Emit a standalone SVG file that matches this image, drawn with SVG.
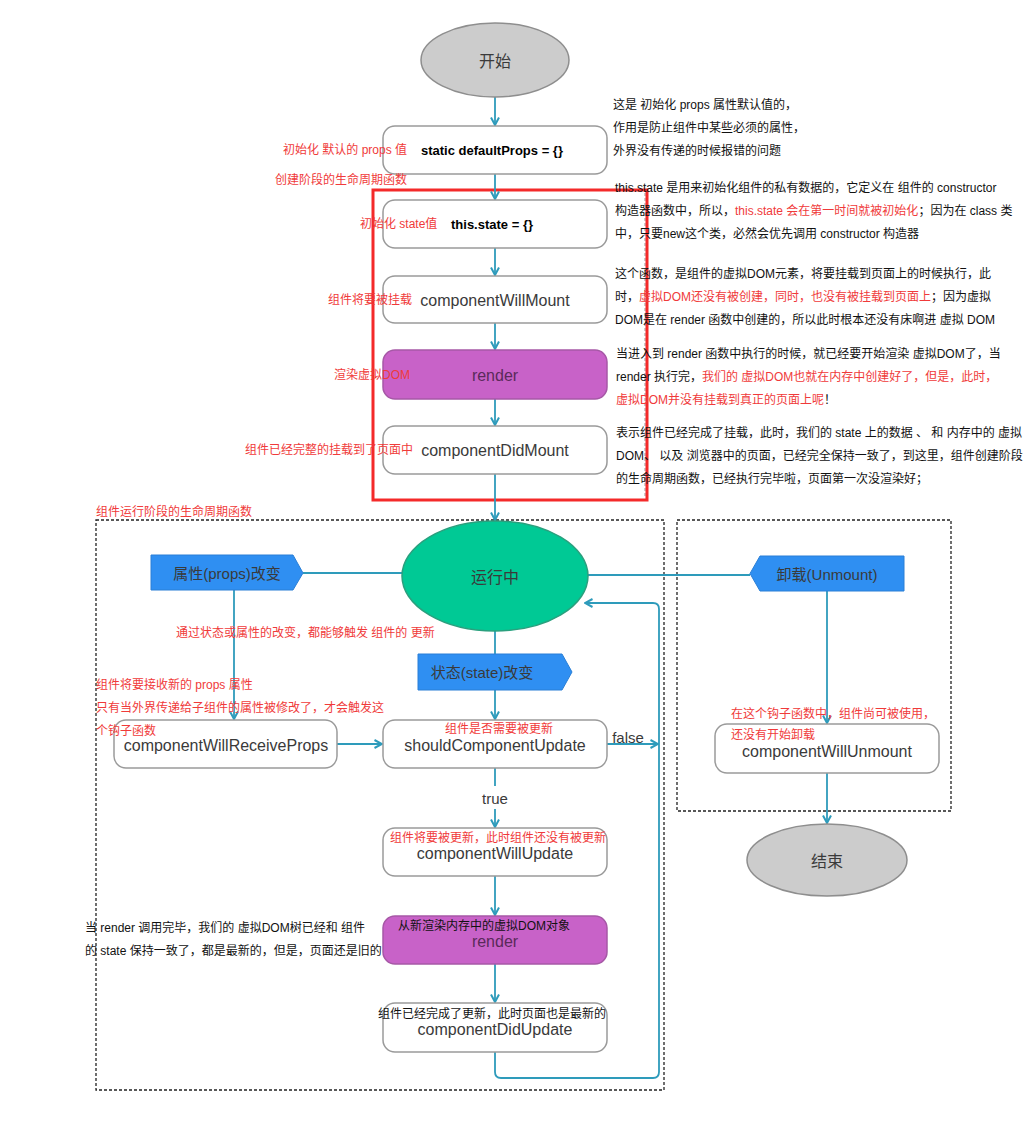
<svg xmlns="http://www.w3.org/2000/svg" width="1031" height="1140" viewBox="0 0 1031 1140">
<defs>
<style>
.box{fill:#fff;stroke:#9a9a9a;stroke-width:1.5}
.pur{fill:#c862c8;stroke:#a658a6;stroke-width:1.5}
.blue{fill:#2f8ff2;stroke:#2a7fd6;stroke-width:1}
.grey{fill:#cccccc;stroke:#8e8e8e;stroke-width:1.5}
.green{fill:#00c995;stroke:#2aa07e;stroke-width:1.5}
.con{fill:none;stroke:#2e9bbb;stroke-width:1.8}
.dash{fill:none;stroke:#222;stroke-width:1.3;stroke-dasharray:3 2}
.t{font-family:"Liberation Sans","Noto Sans CJK SC",sans-serif;}
.node{font-size:16px;fill:#3a3a3a;text-anchor:middle;dominant-baseline:central}
.code{font-size:13px;font-weight:bold;fill:#000;dominant-baseline:central}
.red{font-size:12px;fill:#f03a3a;dominant-baseline:central}
.blk{font-size:12px;fill:#111;dominant-baseline:central}
.r{fill:#f03a3a}
</style>
<marker id="ar" viewBox="0 0 10 10" refX="9" refY="5" markerWidth="10" markerHeight="10" markerUnits="userSpaceOnUse" orient="auto">
<path d="M1.5,1 L9,5 L1.5,9" fill="none" stroke="#2e9bbb" stroke-width="2"/>
</marker>
</defs>
<rect width="1031" height="1140" fill="#fff"/>

<g id="frames">
<rect class="dash" x="96" y="520" width="568" height="570"/>
<rect class="dash" x="677" y="520" width="274" height="291"/>
<line x1="645" y1="193" x2="645" y2="498" stroke="#999" stroke-width="1" stroke-dasharray="3 2"/>
<rect x="373" y="190" width="274" height="310" fill="none" stroke="#f42a2a" stroke-width="3"/>
</g>

<g id="connectors">
<line class="con" x1="495" y1="97" x2="495" y2="125" marker-end="url(#ar)"/>
<line class="con" x1="495" y1="174" x2="495" y2="199" marker-end="url(#ar)"/>
<line class="con" x1="495" y1="248" x2="495" y2="275" marker-end="url(#ar)"/>
<line class="con" x1="495" y1="323" x2="495" y2="349" marker-end="url(#ar)"/>
<line class="con" x1="495" y1="399" x2="495" y2="425" marker-end="url(#ar)"/>
<line class="con" x1="495" y1="474" x2="495" y2="520" marker-end="url(#ar)"/>
<line class="con" x1="303" y1="573" x2="403" y2="573"/>
<line class="con" x1="234" y1="590" x2="234" y2="719" marker-end="url(#ar)"/>
<line class="con" x1="495" y1="630" x2="495" y2="654"/>
<line class="con" x1="495" y1="690" x2="495" y2="719" marker-end="url(#ar)"/>
<line class="con" x1="337" y1="744" x2="382" y2="744" marker-end="url(#ar)"/>
<line class="con" x1="607" y1="744" x2="658" y2="744" marker-end="url(#ar)"/>
<line class="con" x1="495" y1="768" x2="495" y2="786"/>
<line class="con" x1="495" y1="809" x2="495" y2="827" marker-end="url(#ar)"/>
<line class="con" x1="495" y1="876" x2="495" y2="915" marker-end="url(#ar)"/>
<line class="con" x1="495" y1="964" x2="495" y2="1002" marker-end="url(#ar)"/>
<path class="con" d="M495,1052 V1072 Q495,1078 501,1078 H653 Q659,1078 659,1072 V609 Q659,603 653,603 H585" marker-end="url(#ar)"/>
<line class="con" x1="587" y1="575" x2="750" y2="575"/>
<line class="con" x1="827" y1="591" x2="827" y2="723" marker-end="url(#ar)"/>
<line class="con" x1="827" y1="773" x2="827" y2="823" marker-end="url(#ar)"/>
</g>

<g id="start">
<ellipse class="grey" cx="495" cy="60" rx="74" ry="37"/>
<text class="t node" x="495" y="61">开始</text>
</g>

<g id="defaultProps">
<rect class="box" x="383" y="126" width="224" height="48" rx="12"/>
<text class="t code" x="421" y="150">static defaultProps = {}</text>
</g>

<g id="thisState">
<rect class="box" x="383" y="200" width="224" height="48" rx="12"/>
<text class="t code" x="451" y="224">this.state = {}</text>
</g>

<g id="componentWillMount">
<rect class="box" x="383" y="276" width="224" height="47" rx="12"/>
<text class="t node" x="495" y="300">componentWillMount</text>
</g>

<g id="render1">
<rect class="pur" x="383" y="350" width="224" height="49" rx="12"/>
<text class="t node" x="495" y="375" style="fill:#5a2a5a">render</text>
</g>

<g id="componentDidMount">
<rect class="box" x="383" y="426" width="224" height="48" rx="12"/>
<text class="t node" x="495" y="450">componentDidMount</text>
</g>

<g id="running">
<ellipse class="green" cx="495" cy="576" rx="93" ry="55"/>
<text class="t node" x="495" y="577">运行中</text>
</g>

<g id="propsChange">
<path class="blue" d="M151,555 H293 L303,573 L293,590 H151 Z"/>
<text class="t node" x="227" y="573" style="font-size:15px">属性(props)改变</text>
</g>

<g id="stateChange">
<path class="blue" d="M418,654 H562 L572,672 L562,690 H418 Z"/>
<text class="t node" x="482" y="672" style="font-size:15px">状态(state)改变</text>
</g>

<g id="unmount">
<path class="blue" d="M760,556 H904 V591 H760 L750,573.5 Z"/>
<text class="t node" x="827" y="574" style="font-size:15px">卸载(Unmount)</text>
</g>

<g id="componentWillReceiveProps">
<rect class="box" x="114" y="720" width="223" height="48" rx="12"/>
<text class="t node" x="226" y="745">componentWillReceiveProps</text>
</g>

<g id="shouldComponentUpdate">
<rect class="box" x="383" y="720" width="224" height="48" rx="12"/>
<text class="t node" x="495" y="745">shouldComponentUpdate</text>
</g>

<g id="componentWillUpdate">
<rect class="box" x="383" y="828" width="224" height="48" rx="12"/>
<text class="t node" x="495" y="853">componentWillUpdate</text>
</g>

<g id="render2">
<rect class="pur" x="383" y="916" width="224" height="48" rx="12"/>
<text class="t node" x="495" y="941" style="fill:#5a2a5a">render</text>
</g>

<g id="componentDidUpdate">
<rect class="box" x="383" y="1003" width="224" height="49" rx="12"/>
<text class="t node" x="495" y="1029">componentDidUpdate</text>
</g>

<g id="componentWillUnmount">
<rect class="box" x="715" y="724" width="224" height="49" rx="12"/>
<text class="t node" x="827" y="751">componentWillUnmount</text>
</g>

<g id="end">
<ellipse class="grey" cx="827" cy="860" rx="80" ry="36"/>
<text class="t node" x="827" y="861">结束</text>
</g>

<g id="labels">
<text class="t red" x="283" y="150">初始化 默认的 props 值</text>
<text class="t red" x="275" y="180">创建阶段的生命周期函数</text>
<text class="t red" x="360" y="224">初始化 state值</text>
<text class="t red" x="328" y="300">组件将要被挂载</text>
<text class="t red" x="334" y="375">渲染虚拟DOM</text>
<text class="t red" x="245" y="450">组件已经完整的挂载到了页面中</text>
<text class="t red" x="96" y="512">组件运行阶段的生命周期函数</text>
<text class="t red" x="176" y="633">通过状态或属性的改变，都能够触发 组件的 更新</text>
<text class="t red" x="96" y="685">组件将要接收新的 props 属性</text>
<text class="t red" x="96" y="708">只有当外界传递给子组件的属性被修改了，才会触发这</text>
<text class="t red" x="96" y="731">个钩子函数</text>
<text class="t red" x="445" y="729">组件是否需要被更新</text>
<text class="t node" x="628" y="737" style="font-size:15px">false</text>
<text class="t node" x="495" y="798" style="font-size:15px">true</text>
<text class="t red" x="390" y="838">组件将要被更新，此时组件还没有被更新</text>
<text class="t blk" x="398" y="926">从新渲染内存中的虚拟DOM对象</text>
<text class="t blk" x="85" y="928">当 render 调用完毕，我们的 虚拟DOM树已经和 组件</text>
<text class="t blk" x="85" y="951">的 state 保持一致了，都是最新的，但是，页面还是旧的</text>
<text class="t blk" x="378" y="1014">组件已经完成了更新，此时页面也是最新的</text>
<text class="t red" x="731" y="714">在这个钩子函数中，组件尚可被使用，</text>
<text class="t red" x="731" y="735">还没有开始卸载</text>
</g>

<g id="notes">
<text class="t blk" x="613" y="105">这是 初始化 props 属性默认值的，</text>
<text class="t blk" x="613" y="128">作用是防止组件中某些必须的属性，</text>
<text class="t blk" x="613" y="151">外界没有传递的时候报错的问题</text>
<text class="t blk" x="615" y="188">this.state 是用来初始化组件的私有数据的，它定义在 组件的 constructor</text>
<text class="t blk" x="615" y="211">构造器函数中，所以，<tspan class="r">this.state 会在第一时间就被初始化</tspan>；因为在 class 类</text>
<text class="t blk" x="615" y="234">中，只要new这个类，必然会优先调用 constructor 构造器</text>
<text class="t blk" x="615" y="274">这个函数，是组件的虚拟DOM元素，将要挂载到页面上的时候执行，此</text>
<text class="t blk" x="615" y="297">时，<tspan class="r">虚拟DOM还没有被创建，同时，也没有被挂载到页面上</tspan>；因为虚拟</text>
<text class="t blk" x="615" y="320">DOM是在 render 函数中创建的，所以此时根本还没有床啊进 虚拟 DOM</text>
<text class="t blk" x="616" y="354">当进入到 render 函数中执行的时候，就已经要开始渲染 虚拟DOM了，当</text>
<text class="t blk" x="616" y="377">render 执行完，<tspan class="r">我们的 虚拟DOM也就在内存中创建好了，但是，此时，</tspan></text>
<text class="t blk" x="616" y="400"><tspan class="r">虚拟DOM并没有挂载到真正的页面上呢</tspan>！</text>
<text class="t blk" x="616" y="433">表示组件已经完成了挂载，此时，我们的 state 上的数据 、 和 内存中的 虚拟</text>
<text class="t blk" x="616" y="456">DOM、 以及 浏览器中的页面，已经完全保持一致了，到这里，组件创建阶段</text>
<text class="t blk" x="616" y="479">的生命周期函数，已经执行完毕啦，页面第一次没渲染好；</text>
</g>
</svg>
